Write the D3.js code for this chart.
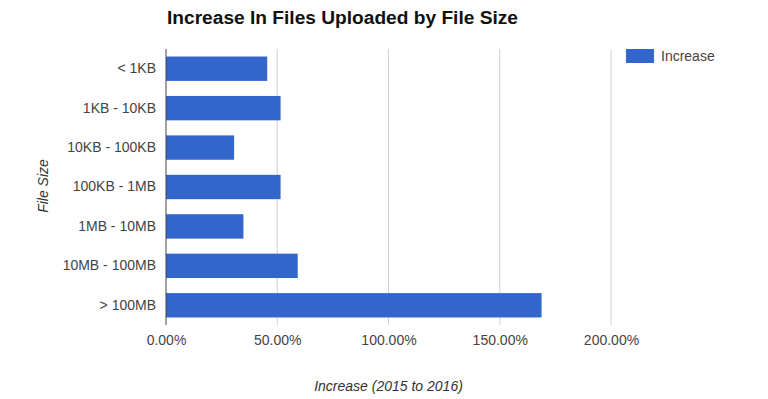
<!DOCTYPE html>
<html lang="en">
<head>
<meta charset="utf-8">
<title>Increase In Files Uploaded by File Size</title>
<script src="https://d3js.org/d3.v7.min.js"></script>
<style>
  body { margin: 0; background: #fff; }
  text { font-family: "Liberation Sans", Arial, Helvetica, sans-serif; }
  .tick text { fill: #444; font-size: 14px; }
</style>
</head>
<body>
<script>
// data
var categories = ["< 1KB", "1KB - 10KB", "10KB - 100KB", "100KB - 1MB", "1MB - 10MB", "10MB - 100MB", "> 100MB"];
var increase = [45.5, 51.5, 30.6, 51.5, 34.8, 59.2, 168.8];
var xTicks = [0, 50, 100, 150, 200];

var w = 768, h = 399;
var mLeft = 166, mRight = 611, mTop = 49, mBottom = 325;

var svg = d3.select("body").append("svg")
    .attr("width", w)
    .attr("height", h);

var x = d3.scaleLinear().domain([0, 200]).range([mLeft, mRight]);
var y = d3.scaleBand().domain(categories).range([mTop, mBottom]).paddingInner(0.382).paddingOuter(0.191);

// gridlines
svg.append("g").selectAll("line")
    .data(xTicks.slice(1))
    .enter().append("line")
    .attr("x1", d => x(d)).attr("x2", d => x(d))
    .attr("y1", mTop).attr("y2", mBottom)
    .attr("stroke", "#d0d0d0").attr("stroke-width", 1);

// bars
svg.append("g").selectAll("rect")
    .data(categories)
    .enter().append("rect")
    .attr("x", x(0))
    .attr("y", d => y(d))
    .attr("height", y.bandwidth())
    .attr("width", (d, i) => x(increase[i]) - x(0))
    .attr("fill", "#3366cc");

// baseline
svg.append("line")
    .attr("x1", x(0)).attr("x2", x(0))
    .attr("y1", mTop).attr("y2", mBottom)
    .attr("stroke", "#444").attr("stroke-width", 1);

// x axis labels
var xAxis = d3.axisBottom(x).tickValues(xTicks).tickSize(0).tickPadding(0)
    .tickFormat(d => d3.format(".2f")(d) + "%");
svg.append("g")
    .attr("transform", "translate(0," + (mBottom + 20) + ")")
    .call(xAxis)
    .call(g => g.select(".domain").remove())
    .selectAll("text").attr("dy", "0");

// y axis labels
var yAxis = d3.axisLeft(y).tickSize(0).tickPadding(10);
svg.append("g")
    .attr("transform", "translate(" + mLeft + ",0)")
    .call(yAxis)
    .call(g => g.select(".domain").remove());

// title
svg.append("text")
    .attr("x", 167).attr("y", 24)
    .attr("font-size", 18).attr("font-weight", "bold")
    .attr("fill", "#111")
    .attr("textLength", 351).attr("lengthAdjust", "spacingAndGlyphs")
    .text("Increase In Files Uploaded by File Size");

// axis titles
svg.append("text")
    .attr("x", (mLeft + mRight) / 2).attr("y", 391)
    .attr("text-anchor", "middle")
    .attr("font-size", 14).attr("font-style", "italic")
    .attr("fill", "#333")
    .text("Increase (2015 to 2016)");

svg.append("text")
    .attr("transform", "translate(48,186) rotate(-90)")
    .attr("text-anchor", "middle")
    .attr("font-size", 14).attr("font-style", "italic")
    .attr("fill", "#333")
    .text("File Size");

// legend
var legend = svg.append("g").attr("transform", "translate(626,49)");
legend.append("rect")
    .attr("width", 28).attr("height", 14)
    .attr("fill", "#3366cc");
legend.append("text")
    .attr("x", 35).attr("y", 12)
    .attr("font-size", 14).attr("fill", "#444")
    .text("Increase");
</script>
</body>
</html>
